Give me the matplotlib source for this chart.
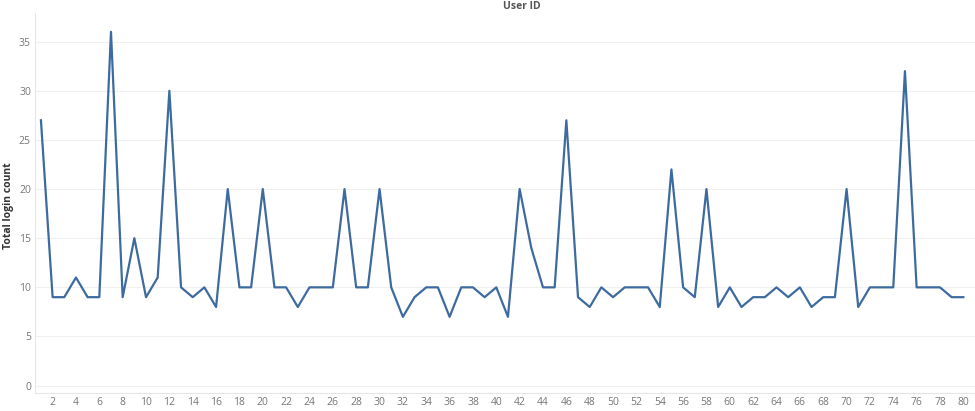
import matplotlib
matplotlib.use("Agg")
import matplotlib.pyplot as plt

# user ids and their login totals
user_ids = list(range(1, 81))
login_counts = [27, 9, 9, 11, 9, 9, 36, 9, 15, 9,
                11, 30, 10, 9, 10, 8, 20, 10, 10, 20,
                10, 10, 8, 10, 10, 10, 20, 10, 10, 20,
                10, 7, 9, 10, 10, 7, 10, 10, 9, 10,
                7, 20, 14, 10, 10, 27, 9, 8, 10, 9,
                10, 10, 10, 8, 22, 10, 9, 20, 8, 10,
                8, 9, 9, 10, 9, 10, 8, 9, 9, 20,
                8, 10, 10, 10, 32, 10, 10, 10, 9, 9]
x_ticks = list(range(2, 81, 2))
y_ticks = [0, 5, 10, 15, 20, 25, 30, 35]

plt.rcParams['font.family'] = ['Open Sans', 'DejaVu Sans']

fig = plt.figure(figsize=(9.75, 4.11), dpi=100)
ax = fig.add_axes([0.036, 0.045, 0.964, 0.923])

ax.plot(user_ids, login_counts, color='#3e6b9f', linewidth=1.6)

ax.set_xlim(0.5, 81)
ax.set_ylim(-0.7, 37.9)
ax.set_xticks(x_ticks)
ax.set_yticks(y_ticks)
ax.tick_params(axis='both', length=0, labelsize=7.5, labelcolor='#777777', pad=3)
ax.grid(axis='y', color='#f0f0f0', linewidth=0.8)
ax.set_axisbelow(True)

for s in ['top', 'right']:
    ax.spines[s].set_visible(False)
for s in ['left', 'bottom']:
    ax.spines[s].set_color('#e6e6e6')
    ax.spines[s].set_linewidth(0.8)

fig.text(0.009, 0.5, 'Total login count', rotation=90, ha='center', va='center',
         fontsize=7.5, color='#333333', fontweight='bold')
fig.text(0.535, 0.985, 'User ID', ha='center', va='center', fontsize=7.5, color='#555555', fontweight='bold')

fig.savefig('out.png', dpi=100)
